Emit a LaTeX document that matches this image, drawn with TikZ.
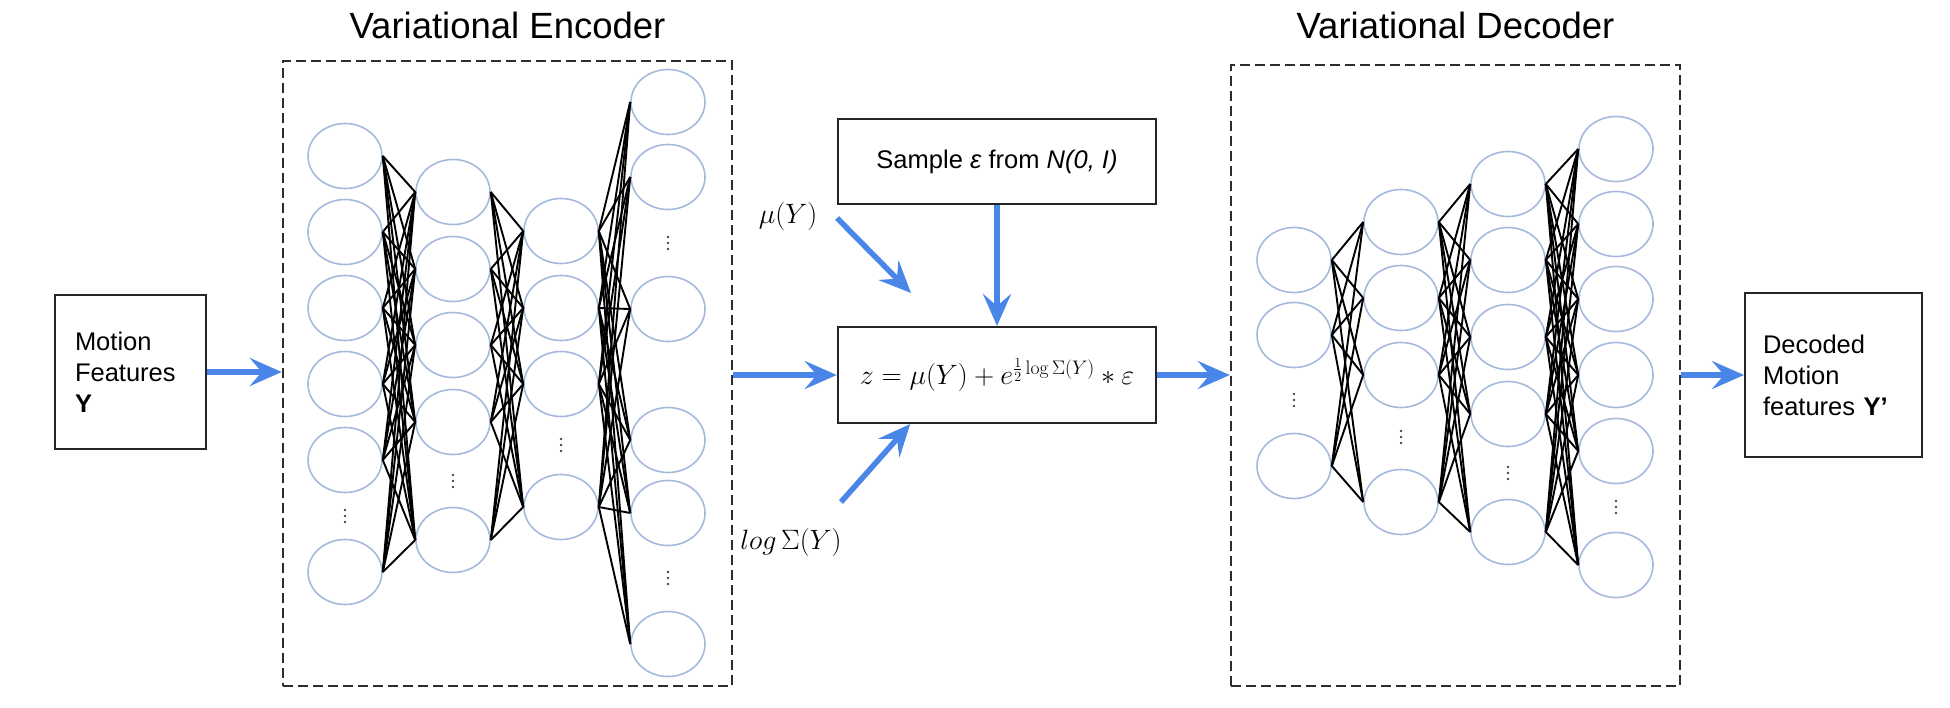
\RequirePackage{fix-cm}
\documentclass[tikz,border=0pt]{standalone}
\usepackage[no-math]{fontspec}
\setmainfont{Liberation Sans}
\usepackage{amsmath}
\usetikzlibrary{arrows.meta,shapes.geometric,calc}
\definecolor{arrowblue}{HTML}{4A86E8}
\definecolor{neuronc}{RGB}{165,185,222}
\definecolor{boxc}{RGB}{45,45,45}
\definecolor{dotc}{RGB}{70,70,70}
\begin{document}
\begin{tikzpicture}[x=1pt,y=-1pt,
  neuron/.style={ellipse, draw=neuronc, line width=1.6pt, minimum width=74pt, minimum height=65pt, inner sep=0pt},
  conn/.style={line width=1.9pt, draw=black},
  dashbox/.style={draw=boxc, dash pattern=on 10pt off 5pt, line width=2.4pt, inner sep=0pt},
  solidbox/.style={draw=black!85, line width=2pt, inner sep=0pt},
  arr/.style={draw=arrowblue, line width=5.5pt, -{Stealth[length=32pt,width=28pt,inset=12pt]}},
  sans/.style={font=\fontsize{25.5}{31}\selectfont},
  titletext/.style={font=\fontsize{36.5}{40}\selectfont},
  mathlab/.style={font=\fontsize{28}{32}\selectfont},
  vdotspic/.pic={\fill[dotc] (0,-6) circle (1.4) (0,0) circle (1.4) (0,6) circle (1.4);}
]
\useasboundingbox (0,0) rectangle (1950,707);

% titles
\node[titletext] (enctitle) at (507.5,25) {Variational Encoder};
\node[titletext] (dectitle) at (1455.5,25) {Variational Decoder};

% dashed frames
\node[dashbox, minimum width=449pt, minimum height=625pt] (enc) at (507.5,373.5) {};
\node[dashbox, minimum width=449pt, minimum height=621pt] (dec) at (1455.5,375.5) {};

% input / output boxes
\node[solidbox, minimum width=151pt, minimum height=154pt, sans, text width=111pt, align=left] (motion) at (130.5,372) {Motion\\Features\\\textbf{Y}};
\node[solidbox, minimum width=177pt, minimum height=164pt, sans, text width=141pt, align=left] (decoded) at (1833.5,375) {Decoded\\Motion\\features \textbf{Y’}};

% middle boxes
\node[solidbox, minimum width=318.5pt, minimum height=85pt, sans] (sample) at (997,161.5) {Sample \textit{ε} from \textit{N(0, I)}};
\node[solidbox, minimum width=318.5pt, minimum height=96pt, mathlab] (formula) at (997,375) {$z=\mu(Y)+e^{\frac{1}{2}\log\Sigma(Y)}*\varepsilon$};

\node[mathlab] (mu) at (788,216) {$\mu(Y)$};
\node[mathlab] (logs) at (791,542) {$log\,\Sigma(Y)$};

% encoder neurons
\foreach \y [count=\i] in {156,232,308,384,460,572} \node[neuron] (e1-\i) at (345,\y) {};
\foreach \y [count=\i] in {192,269,345,422,540} \node[neuron] (e2-\i) at (453,\y) {};
\foreach \y [count=\i] in {231,308,384,507} \node[neuron] (e3-\i) at (561,\y) {};
\foreach \y [count=\i] in {102,177,309,440,513,644} \node[neuron] (e4-\i) at (668,\y) {};
\pic at (345,516) {vdotspic};
\pic at (453,481) {vdotspic};
\pic at (561,445) {vdotspic};
\pic at (668,243) {vdotspic};
\pic at (668,578) {vdotspic};

% decoder neurons
\foreach \y [count=\i] in {260,335,466} \node[neuron] (d1-\i) at (1294,\y) {};
\foreach \y [count=\i] in {222,298,375,502} \node[neuron] (d2-\i) at (1401,\y) {};
\foreach \y [count=\i] in {184,260,337,414,532} \node[neuron] (d3-\i) at (1508,\y) {};
\foreach \y [count=\i] in {149,224,299,375,451,565} \node[neuron] (d4-\i) at (1616,\y) {};
\pic at (1294,400) {vdotspic};
\pic at (1401,437) {vdotspic};
\pic at (1508,473) {vdotspic};
\pic at (1616,507) {vdotspic};

% encoder connections
\foreach \i in {1,...,6}{\foreach \j in {1,...,5}{\draw[conn] (e1-\i.east) -- (e2-\j.west);}}
\foreach \i in {1,...,5}{\foreach \j in {1,...,4}{\draw[conn] (e2-\i.east) -- (e3-\j.west);}}
\foreach \i in {1,...,4}{\foreach \j in {1,...,6}{\draw[conn] (e3-\i.east) -- (e4-\j.west);}}

% decoder connections
\foreach \i in {1,...,3}{\foreach \j in {1,...,4}{\draw[conn] (d1-\i.east) -- (d2-\j.west);}}
\foreach \i in {1,...,4}{\foreach \j in {1,...,5}{\draw[conn] (d2-\i.east) -- (d3-\j.west);}}
\foreach \i in {1,...,5}{\foreach \j in {1,...,6}{\draw[conn] (d3-\i.east) -- (d4-\j.west);}}

% arrows
\draw[arr] (motion.east) -- (motion.east -| enc.west);
\draw[arr] (enc.east |- formula.west) -- (formula.west);
\draw[arr] (formula.east) -- (formula.east -| dec.west);
\draw[arr] (dec.east |- decoded.west) -- (decoded.west);
\draw[arr] (sample.south) -- (formula.north);
\coordinate (mutail) at (837,218);
\coordinate (mutip) at (911,293);
\draw[arr] (mutail) -- (mutip);
\coordinate (logtail) at (841,502);
\path (formula.south west) ++(73.5,0) coordinate (logtip);
\draw[arr] (logtail) -- (logtip);
\end{tikzpicture}
\end{document}
